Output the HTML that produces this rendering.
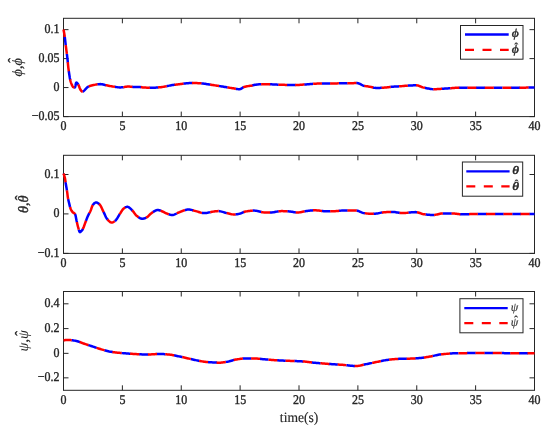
<!DOCTYPE html>
<html><head><meta charset="utf-8"><style>
html,body{margin:0;padding:0;background:#fff;width:550px;height:435px;overflow:hidden}
svg{display:block;text-rendering:geometricPrecision}
text{font-family:'Liberation Serif', 'DejaVu Serif', serif;font-size:13.3px;fill:#262626;stroke:#262626;stroke-width:0.38px}
.m{font-style:italic}
.lg{font-size:12px}
.yl{font-size:14.3px}
</style></head><body>
<svg width="550" height="435" viewBox="0 0 550 435">
<rect width="550" height="435" fill="#fff"/>
<rect x="63.5" y="18.3" width="471.0" height="98.3" fill="none" stroke="#262626" stroke-width="1"/>
<path d="M63.50,116.6v-5M63.50,18.3v5M122.38,116.6v-5M122.38,18.3v5M181.25,116.6v-5M181.25,18.3v5M240.12,116.6v-5M240.12,18.3v5M299.00,116.6v-5M299.00,18.3v5M357.88,116.6v-5M357.88,18.3v5M416.75,116.6v-5M416.75,18.3v5M475.62,116.6v-5M475.62,18.3v5M534.50,116.6v-5M534.50,18.3v5M63.5,116.60h5M534.5,116.60h-5M63.5,87.55h5M534.5,87.55h-5M63.5,58.60h5M534.5,58.60h-5M63.5,29.65h5M534.5,29.65h-5" stroke="#262626" stroke-width="1" fill="none"/>
<path d="M64.73,36.74 64.86,37.73 64.98,38.72 65.10,39.72 65.21,40.71 65.32,41.71 65.43,42.70 65.54,43.69 65.66,44.69 65.75,45.43M66.86,53.86 66.98,54.85 67.11,55.84 67.23,56.83 67.35,57.82 67.47,58.82 67.58,59.81 67.68,60.80 67.78,61.80 67.84,62.55M68.78,70.99 68.92,71.98 69.07,72.97 69.22,73.96 69.37,74.95 69.51,75.94 69.67,76.93 69.83,77.92 70.02,78.90 70.23,79.87M74.15,87.48 74.88,87.53 75.26,86.78 75.53,85.51 75.76,84.11 76.03,82.97 76.39,82.50 76.99,82.89 77.73,83.78 78.37,84.75M82.47,91.70 83.32,91.29 84.13,90.59 84.84,89.89 85.53,89.17 86.24,88.43 86.94,87.68 87.68,87.01 88.49,86.50 88.94,86.31M97.22,84.31 98.21,84.21 99.21,84.14 100.21,84.10 101.20,84.15 102.18,84.30 103.16,84.52 104.14,84.77 105.12,85.02 106.09,85.24M114.70,86.81 115.69,86.97 116.68,87.13 117.67,87.27 118.66,87.37 119.66,87.40 120.66,87.38 121.66,87.34 122.66,87.29 123.65,87.17M132.08,86.87 133.08,86.90 134.08,86.90 135.08,86.90 136.08,86.90 137.08,86.90 138.08,86.90 139.08,86.92 140.07,87.01 141.06,87.14M149.29,87.68 150.29,87.69 151.29,87.69 152.29,87.70 153.29,87.70 154.29,87.68 155.28,87.64 156.28,87.58 157.28,87.50 158.28,87.42M166.44,86.24 167.42,86.05 168.40,85.86 169.38,85.64 170.35,85.42 171.33,85.22 172.32,85.05 173.30,84.91 174.30,84.79 175.04,84.70M183.24,83.73 184.24,83.60 185.23,83.47 186.23,83.36 187.22,83.25 188.22,83.16 189.21,83.09 190.21,83.03 191.21,83.00 192.20,83.00 192.45,83.00M201.19,83.34 202.18,83.45 203.17,83.57 204.16,83.70 205.16,83.84 206.15,84.00 207.14,84.15 208.13,84.31 209.12,84.46 210.10,84.61 210.35,84.65M218.75,85.95 219.74,86.11 220.72,86.27 221.71,86.43 222.70,86.59 223.68,86.76 224.67,86.92 225.65,87.09 226.64,87.26 227.63,87.42M235.58,88.73 236.58,88.90 237.58,89.04 238.56,89.14 239.51,89.20 240.43,89.10 241.32,88.68 242.18,88.08 243.05,87.46 243.72,87.08M252.05,85.47 253.03,85.26 254.02,85.05 255.00,84.84 255.99,84.65 256.98,84.50 257.96,84.38 258.96,84.31 259.95,84.30 260.94,84.30 261.44,84.30M269.70,84.31 270.70,84.34 271.70,84.37 272.70,84.41 273.69,84.46 274.69,84.51 275.69,84.56 276.69,84.61 277.69,84.66 278.69,84.71M286.93,84.91 287.93,84.93 288.93,84.94 289.93,84.96 290.93,84.97 291.93,84.98 292.93,84.99 293.93,84.99 294.93,85.00 295.68,85.00M304.16,84.54 305.16,84.46 306.16,84.40 307.16,84.33 308.15,84.25 309.15,84.17 310.15,84.09 311.14,84.00 312.14,83.92 313.14,83.84M321.63,83.54 322.63,83.53 323.63,83.52 324.63,83.50 325.63,83.49 326.63,83.48 327.62,83.47 328.62,83.46 329.62,83.45 330.37,83.44M338.87,83.36 339.87,83.36 340.87,83.35 341.87,83.34 342.87,83.33 343.87,83.32 344.87,83.31 345.87,83.30 346.87,83.29 347.63,83.27M356.15,83.10 357.11,83.10 358.06,83.22 358.99,83.53 359.91,83.96 360.82,84.46 361.74,84.96 362.66,85.39 363.61,85.70 364.58,85.91 364.82,85.96M372.96,87.48 373.94,87.69 374.93,87.86 375.91,87.97 376.90,88.00 377.90,87.99 378.89,87.95 379.89,87.91 380.89,87.85 381.89,87.78M390.36,86.94 391.35,86.82 392.34,86.73 393.34,86.66 394.34,86.60 395.34,86.54 396.34,86.50 397.33,86.45 398.33,86.40 399.08,86.36M407.55,85.64 408.55,85.58 409.56,85.53 410.56,85.47 411.57,85.42 412.57,85.38 413.57,85.34 414.56,85.32 415.55,85.30 416.53,85.31M424.67,87.82 425.65,88.02 426.63,88.22 427.62,88.42 428.61,88.60 429.60,88.77 430.59,88.92 431.59,89.04 432.58,89.13 433.58,89.19M441.80,88.80 442.80,88.72 443.80,88.64 444.80,88.57 445.80,88.51 446.80,88.45 447.79,88.38 448.79,88.31 449.79,88.24 450.54,88.18M458.77,87.72 459.77,87.70 460.77,87.70 461.77,87.70 462.77,87.70 463.77,87.70 464.77,87.70 465.77,87.70 466.77,87.70 467.77,87.70M476.02,87.70 477.02,87.70 478.02,87.70 479.02,87.70 480.02,87.70 481.02,87.70 482.02,87.70 483.02,87.70 484.01,87.70 485.01,87.70M493.51,87.69 494.51,87.69 495.51,87.69 496.51,87.69 497.51,87.68 498.51,87.68 499.51,87.68 500.51,87.68 501.51,87.68 502.51,87.68M511.01,87.66 512.01,87.66 513.01,87.66 514.01,87.65 515.01,87.65 516.01,87.65 517.01,87.65 518.00,87.64 519.00,87.64 520.00,87.64M528.25,87.62 529.25,87.62 530.25,87.61 531.25,87.61 532.25,87.61 533.25,87.60 534.25,87.60 534.50,87.60" fill="none" stroke="#0000ff" stroke-width="2.5" stroke-linejoin="round"/>
<path d="M63.50,29.60 63.69,30.58 63.88,31.56 64.07,32.55 64.24,33.53 64.40,34.52 64.56,35.50 64.70,36.49 64.76,36.99M65.72,45.18 65.85,46.17 65.98,47.16 66.11,48.16 66.24,49.15 66.37,50.14 66.50,51.13 66.63,52.12 66.76,53.11 66.86,53.86M67.80,62.05 67.89,63.04 67.97,64.04 68.06,65.04 68.16,66.03 68.26,67.03 68.37,68.02 68.50,69.01 68.63,70.00 68.78,70.99 68.81,71.24M70.12,79.38 70.35,80.35 70.61,81.33 70.91,82.29 71.24,83.23 71.60,84.16 72.01,85.15 72.48,86.12 73.04,86.89 73.87,87.38 74.41,87.55M78.23,84.52 78.70,85.40 79.06,86.33 79.39,87.29 79.77,88.23 80.19,89.15 80.66,90.06 81.23,90.84 82.04,91.54 82.68,91.67M88.71,86.40 89.66,86.05 90.63,85.76 91.59,85.52 92.57,85.30 93.55,85.09 94.52,84.86 95.50,84.62 96.48,84.42 97.46,84.28M105.60,85.14 106.58,85.34 107.56,85.55 108.54,85.75 109.52,85.95 110.50,86.14 111.49,86.31 112.47,86.48 113.46,86.63 114.45,86.78 114.94,86.85M123.40,87.21 124.39,87.04 125.38,86.84 126.36,86.65 127.35,86.53 128.35,86.51 129.34,86.57 130.34,86.69 131.33,86.80 132.33,86.89M140.82,87.11 141.81,87.26 142.80,87.41 143.79,87.53 144.79,87.60 145.79,87.62 146.79,87.64 147.79,87.66 148.79,87.67 149.79,87.68M158.03,87.44 159.03,87.34 160.02,87.25 161.01,87.15 162.00,87.02 162.99,86.87 163.98,86.70 164.96,86.52 165.95,86.34 166.68,86.19M174.54,84.76 175.54,84.64 176.53,84.53 177.53,84.43 178.52,84.32 179.52,84.21 180.51,84.09 181.50,83.96 182.50,83.83 183.49,83.69M191.95,83.00 192.95,83.01 193.95,83.02 194.95,83.05 195.95,83.08 196.95,83.11 197.95,83.15 198.95,83.19 199.94,83.25 200.94,83.32 201.44,83.37M210.10,84.61 211.09,84.76 212.08,84.90 213.07,85.05 214.06,85.20 215.05,85.36 216.03,85.51 217.02,85.67 218.01,85.83 219.00,85.99M227.38,87.38 228.37,87.55 229.35,87.71 230.34,87.87 231.33,88.02 232.32,88.17 233.31,88.33 234.31,88.50 235.32,88.68 235.83,88.77M243.27,87.32 244.18,86.91 245.12,86.66 246.09,86.46 247.08,86.28 248.07,86.12 249.08,85.97 250.07,85.82 251.06,85.65 252.05,85.47 252.54,85.36M261.19,84.30 262.19,84.30 263.19,84.30 264.19,84.30 265.20,84.30 266.20,84.30 267.20,84.30 268.20,84.30 269.20,84.31 270.20,84.32M278.44,84.70 279.44,84.74 280.44,84.78 281.44,84.80 282.44,84.82 283.43,84.84 284.43,84.86 285.43,84.88 286.43,84.90 287.18,84.91M295.18,85.00 296.18,85.00 297.18,84.98 298.18,84.95 299.17,84.90 300.17,84.84 301.17,84.77 302.17,84.69 303.17,84.61 304.16,84.54 304.41,84.52M313.14,83.84 314.14,83.77 315.13,83.71 316.13,83.65 317.13,83.62 318.13,83.59 319.13,83.57 320.13,83.56 321.13,83.54 321.88,83.53M330.12,83.44 331.12,83.43 332.12,83.42 333.12,83.41 334.12,83.40 335.12,83.39 336.12,83.39 337.12,83.38 338.12,83.37 338.87,83.36M347.37,83.28 348.38,83.26 349.40,83.24 350.41,83.21 351.42,83.19 352.43,83.16 353.43,83.14 354.43,83.12 355.41,83.11 356.39,83.10M364.33,85.86 365.31,86.05 366.30,86.21 367.29,86.36 368.29,86.50 369.28,86.66 370.26,86.85 371.24,87.07 372.23,87.30 373.21,87.53M381.64,87.80 382.64,87.72 383.64,87.65 384.64,87.57 385.64,87.49 386.63,87.40 387.63,87.28 388.62,87.16 389.61,87.03 390.61,86.91M399.08,86.36 400.08,86.29 401.08,86.21 402.07,86.12 403.07,86.02 404.06,85.91 405.06,85.82 406.05,85.74 407.05,85.67 407.80,85.63M416.04,85.30 417.01,85.37 417.97,85.56 418.93,85.85 419.88,86.21 420.83,86.59 421.78,86.98 422.73,87.33 423.70,87.61 424.67,87.82 424.91,87.87M433.33,89.18 434.32,89.20 435.32,89.19 436.31,89.16 437.31,89.12 438.31,89.06 439.30,88.99 440.30,88.92 441.30,88.84 442.05,88.78M450.29,88.20 451.29,88.13 452.28,88.06 453.28,87.99 454.28,87.92 455.28,87.86 456.28,87.81 457.28,87.77 458.27,87.73 459.27,87.71M467.52,87.70 468.52,87.70 469.52,87.70 470.52,87.70 471.52,87.70 472.52,87.70 473.52,87.70 474.52,87.70 475.52,87.70 476.27,87.70M484.76,87.70 485.76,87.70 486.76,87.70 487.76,87.69 488.76,87.69 489.76,87.69 490.76,87.69 491.76,87.69 492.76,87.69 493.76,87.69M502.51,87.68 503.51,87.67 504.51,87.67 505.51,87.67 506.51,87.67 507.51,87.67 508.51,87.67 509.51,87.66 510.51,87.66 511.26,87.66M519.50,87.64 520.50,87.64 521.50,87.64 522.50,87.63 523.50,87.63 524.50,87.63 525.50,87.63 526.50,87.62 527.50,87.62 528.50,87.62" fill="none" stroke="#ff0000" stroke-width="2.5" stroke-linejoin="round"/>
<text transform="translate(63.50,130.15) scale(0.9,1)" text-anchor="middle">0</text>
<text transform="translate(122.38,130.15) scale(0.9,1)" text-anchor="middle">5</text>
<text transform="translate(181.25,130.15) scale(0.9,1)" text-anchor="middle">10</text>
<text transform="translate(240.12,130.15) scale(0.9,1)" text-anchor="middle">15</text>
<text transform="translate(299.00,130.15) scale(0.9,1)" text-anchor="middle">20</text>
<text transform="translate(357.88,130.15) scale(0.9,1)" text-anchor="middle">25</text>
<text transform="translate(416.75,130.15) scale(0.9,1)" text-anchor="middle">30</text>
<text transform="translate(475.62,130.15) scale(0.9,1)" text-anchor="middle">35</text>
<text transform="translate(534.50,130.15) scale(0.9,1)" text-anchor="middle">40</text>
<text transform="translate(59.50,119.80) scale(0.9,1)" text-anchor="end">−0.05</text>
<text transform="translate(59.50,90.75) scale(0.9,1)" text-anchor="end">0</text>
<text transform="translate(59.50,61.80) scale(0.9,1)" text-anchor="end">0.05</text>
<text transform="translate(59.50,32.85) scale(0.9,1)" text-anchor="end">0.1</text>
<rect x="63.5" y="155.3" width="471.0" height="98.1" fill="none" stroke="#262626" stroke-width="1"/>
<path d="M63.50,253.4v-5M63.50,155.3v5M122.38,253.4v-5M122.38,155.3v5M181.25,253.4v-5M181.25,155.3v5M240.12,253.4v-5M240.12,155.3v5M299.00,253.4v-5M299.00,155.3v5M357.88,253.4v-5M357.88,155.3v5M416.75,253.4v-5M416.75,155.3v5M475.62,253.4v-5M475.62,155.3v5M534.50,253.4v-5M534.50,155.3v5M63.5,253.40h5M534.5,253.40h-5M63.5,213.90h5M534.5,213.90h-5M63.5,174.50h5M534.5,174.50h-5" stroke="#262626" stroke-width="1" fill="none"/>
<path d="M63.50,173.50 63.59,173.73M65.52,181.99 65.66,182.98 65.83,183.96 66.00,184.95 66.17,185.93 66.35,186.92 66.52,187.90 66.68,188.89 66.84,189.88 66.95,190.62M68.14,199.03 68.35,200.00 68.58,200.98 68.82,201.95 69.06,202.92 69.30,203.90 69.52,204.88 69.76,205.86 70.00,206.84 70.14,207.32M74.89,213.77 75.24,214.55 75.52,215.44 75.76,216.41 75.95,217.44 76.13,218.50 76.32,219.55 76.52,220.57 76.75,221.54 76.92,222.28M78.77,229.58 79.10,230.78 79.48,231.73 79.92,232.19 80.52,231.96 81.30,231.21 82.06,230.28 82.62,229.44 83.07,228.59M85.92,221.04 86.27,220.10 86.62,219.16 86.98,218.23 87.35,217.30 87.73,216.38 88.14,215.47 88.59,214.58 89.06,213.70 89.42,213.03M92.61,205.40 93.15,204.61 93.85,203.75 94.67,202.98 95.52,202.49 96.36,202.44 97.30,202.78 98.24,203.35 99.07,203.99 99.41,204.30M103.49,211.78 103.94,212.69 104.36,213.63 104.77,214.57 105.18,215.51 105.61,216.43 106.06,217.31 106.56,218.15 107.11,218.91 107.75,219.70M114.76,221.13 115.50,220.53 116.15,219.85 116.74,219.08 117.29,218.24 117.81,217.35 118.33,216.44 118.85,215.54 119.38,214.67 119.81,214.04M124.94,207.66 125.89,207.16 126.86,206.85 127.73,206.84 128.58,207.16 129.42,207.71 130.23,208.42 131.02,209.21 131.78,209.99 132.50,210.69M138.21,216.98 139.09,217.60 140.01,218.13 140.94,218.55 141.87,218.77 142.80,218.77 143.77,218.57 144.75,218.24 145.72,217.83 146.40,217.50M152.76,212.25 153.64,211.64 154.54,211.07 155.45,210.58 156.37,210.22 157.29,210.02 158.22,210.03 159.17,210.21 160.13,210.51 160.85,210.79M168.52,214.16 169.50,214.49 170.47,214.75 171.44,214.93 172.39,215.00 173.33,214.90 174.26,214.62 175.18,214.22 176.11,213.75 176.80,213.38M184.60,210.20 185.56,209.91 186.52,209.69 187.49,209.55 188.45,209.50 189.42,209.55 190.40,209.69 191.37,209.90 192.35,210.15 193.33,210.43M201.58,212.85 202.56,213.03 203.53,213.10 204.51,213.08 205.50,213.01 206.49,212.89 207.48,212.75 208.47,212.58 209.46,212.39 210.46,212.19M218.63,211.11 219.61,211.20 220.59,211.37 221.56,211.60 222.53,211.87 223.50,212.16 224.48,212.46 225.45,212.74 226.42,212.99 226.91,213.10M235.27,214.46 236.27,214.35 237.27,214.20 238.26,214.02 239.24,213.83 240.19,213.59 241.13,213.23 242.05,212.81 242.97,212.37 243.90,211.98 244.13,211.89M252.52,210.63 253.52,210.60 254.51,210.62 255.49,210.71 256.48,210.86 257.46,211.06 258.44,211.29 259.42,211.54 260.41,211.78 261.39,212.01M269.85,212.60 270.85,212.57 271.84,212.49 272.83,212.36 273.82,212.20 274.81,212.02 275.80,211.83 276.79,211.64 277.78,211.46 278.77,211.31M287.25,211.31 288.25,211.37 289.24,211.43 290.24,211.54 291.23,211.69 292.22,211.85 293.21,212.03 294.21,212.19 295.20,212.34 295.94,212.42M304.33,211.42 305.32,211.24 306.31,211.10 307.30,210.98 308.30,210.85 309.29,210.73 310.29,210.61 311.28,210.51 312.28,210.42 313.28,210.35M321.74,210.97 322.74,211.09 323.73,211.19 324.73,211.26 325.73,211.30 326.72,211.30 327.72,211.30 328.72,211.29 329.72,211.28 330.47,211.27M338.96,210.84 339.95,210.73 340.95,210.63 341.95,210.55 342.94,210.51 343.94,210.50 344.94,210.50 345.95,210.50 346.96,210.51 347.72,210.51M356.44,210.60 357.40,210.70 358.35,210.96 359.29,211.33 360.22,211.76 361.16,212.20 362.10,212.61 363.05,212.94 364.01,213.13 364.99,213.28M373.24,213.75 374.24,213.70 375.24,213.63 376.23,213.55 377.22,213.47 378.21,213.31 379.19,213.10 380.17,212.86 381.15,212.64 382.13,212.47 382.38,212.43M390.86,211.91 391.86,211.90 392.85,211.91 393.85,211.97 394.84,212.09 395.83,212.23 396.83,212.40 397.82,212.57 398.81,212.74 399.80,212.89M408.28,212.68 409.28,212.57 410.28,212.46 411.28,212.35 412.28,212.26 413.27,212.18 414.26,212.13 415.25,212.10 416.23,212.14 417.20,212.28M425.46,214.44 426.45,214.56 427.45,214.66 428.45,214.76 429.45,214.85 430.45,214.92 431.45,214.97 432.44,215.00 433.44,214.99 434.43,214.92M442.57,213.42 443.56,213.40 444.56,213.40 445.56,213.40 446.56,213.40 447.56,213.40 448.56,213.40 449.56,213.40 450.56,213.40 451.56,213.40 451.81,213.40M460.03,214.20 461.02,214.27 462.02,214.30 463.02,214.30 464.02,214.28 465.01,214.26 466.01,214.23 467.01,214.20 468.01,214.17 469.01,214.13M477.51,214.00 478.51,214.00 479.51,214.00 480.51,214.00 481.51,214.00 482.51,214.00 483.51,214.00 484.51,214.00 485.51,214.00 486.51,214.00M495.01,214.00 496.01,214.00 497.01,214.00 498.01,214.00 499.01,214.00 500.00,214.00 501.00,214.00 502.00,214.00 503.00,214.00 503.75,214.00M512.25,214.00 513.25,214.00 514.25,214.00 515.25,214.00 516.25,214.00 517.25,214.00 518.25,214.00 519.25,214.00 520.25,214.00 521.00,214.00M529.25,214.00 530.25,214.00 531.25,214.00 532.25,214.00 533.25,214.00 534.25,214.00 534.50,214.00" fill="none" stroke="#0000ff" stroke-width="2.5" stroke-linejoin="round"/>
<path d="M63.50,173.50 63.86,174.44 64.19,175.39 64.48,176.35 64.74,177.31 64.96,178.28 65.13,179.26 65.28,180.25 65.42,181.24 65.55,182.23M66.91,190.37 67.06,191.36 67.21,192.35 67.35,193.34 67.47,194.33 67.58,195.33 67.70,196.32 67.84,197.31 68.00,198.29 68.19,199.27M70.07,207.08 70.36,208.03 70.70,208.95 71.12,209.87 71.62,210.77 72.19,211.60 72.83,212.32 73.73,212.89 74.60,213.45 75.07,214.15M76.87,222.03 77.09,223.01 77.31,223.99 77.54,224.96 77.78,225.93 78.04,226.90 78.32,227.85 78.61,228.96 78.77,229.58M82.85,229.03 83.27,228.15 83.65,227.22 84.00,226.27 84.34,225.30 84.67,224.33 85.02,223.37 85.38,222.44 85.74,221.51 86.00,220.80M89.30,213.25 89.78,212.37 90.24,211.48 90.66,210.58 91.04,209.64 91.37,208.66 91.68,207.68 92.01,206.71 92.40,205.82 92.73,205.20M99.07,203.99 99.72,204.62 100.29,205.36 100.81,206.18 101.28,207.07 101.73,208.01 102.17,208.97 102.60,209.94 103.04,210.88 103.49,211.78 103.61,212.01M107.58,219.50 108.29,220.33 109.07,221.15 109.89,221.86 110.74,222.37 111.59,222.60 112.46,222.46 113.40,222.04 114.33,221.45 114.76,221.13M119.67,214.25 120.23,213.40 120.78,212.51 121.32,211.61 121.87,210.73 122.45,209.89 123.07,209.13 123.74,208.48 124.50,207.93 125.17,207.53M132.14,210.35 132.84,211.06 133.48,211.84 134.09,212.66 134.68,213.51 135.29,214.32 135.93,215.09 136.62,215.75 137.38,216.35 138.21,216.98 138.43,217.14M146.18,217.61 147.04,217.17 147.82,216.61 148.56,215.93 149.27,215.18 149.98,214.43 150.72,213.73 151.50,213.13 152.34,212.55 152.98,212.10M160.61,210.69 161.57,211.10 162.52,211.51 163.45,211.91 164.34,212.37 165.22,212.84 166.14,213.23 167.08,213.60 168.04,213.98 168.77,214.25M176.80,213.38 177.72,212.90 178.66,212.49 179.60,212.15 180.54,211.77 181.49,211.39 182.45,211.00 183.40,210.62 184.36,210.28 184.84,210.12M192.84,210.29 193.82,210.58 194.80,210.87 195.77,211.14 196.74,211.39 197.71,211.67 198.68,211.98 199.65,212.30 200.62,212.60 201.58,212.85 201.83,212.91M210.21,212.24 211.21,212.04 212.20,211.84 213.20,211.64 214.19,211.47 215.18,211.32 216.17,211.21 217.16,211.13 218.14,211.10 218.63,211.11M226.67,213.05 227.65,213.27 228.63,213.51 229.61,213.76 230.59,214.00 231.57,214.21 232.55,214.38 233.54,214.48 234.52,214.50 235.52,214.44M243.67,212.07 244.60,211.74 245.56,211.53 246.54,211.36 247.52,211.19 248.52,211.04 249.52,210.91 250.52,210.79 251.52,210.70 252.52,210.63 252.77,210.62M261.14,211.95 262.13,212.16 263.12,212.31 264.11,212.40 265.10,212.45 266.10,212.50 267.10,212.54 268.10,212.58 269.10,212.59 270.10,212.60M278.52,211.34 279.52,211.22 280.51,211.13 281.50,211.10 282.50,211.11 283.50,211.13 284.50,211.17 285.50,211.21 286.50,211.26 287.50,211.32M295.69,212.40 296.68,212.48 297.67,212.50 298.66,212.45 299.65,212.34 300.63,212.18 301.62,211.99 302.60,211.78 303.59,211.57 304.58,211.37M313.03,210.36 314.03,210.32 315.02,210.30 316.02,210.32 317.01,210.39 318.01,210.48 319.00,210.60 320.00,210.73 320.99,210.87 321.99,211.00M330.22,211.27 331.22,211.26 332.22,211.25 333.22,211.23 334.22,211.21 335.22,211.18 336.22,211.12 337.21,211.04 338.21,210.93 339.21,210.82M347.46,210.51 348.47,210.51 349.48,210.52 350.49,210.53 351.49,210.54 352.50,210.55 353.49,210.56 354.48,210.57 355.47,210.58 356.44,210.60 356.68,210.61M364.75,213.24 365.73,213.38 366.73,213.51 367.73,213.62 368.73,213.70 369.74,213.77 370.74,213.80 371.73,213.80 372.73,213.77 373.74,213.72M381.88,212.50 382.87,212.39 383.86,212.30 384.86,212.22 385.86,212.15 386.86,212.09 387.86,212.03 388.86,211.98 389.86,211.94 390.86,211.91 391.11,211.91M399.55,212.86 400.55,212.99 401.54,213.07 402.53,213.10 403.53,213.08 404.53,213.03 405.53,212.96 406.53,212.87 407.53,212.77 408.53,212.66M416.96,212.23 417.93,212.45 418.89,212.73 419.86,213.05 420.82,213.39 421.79,213.71 422.76,213.99 423.73,214.21 424.71,214.35 425.70,214.47M434.18,214.94 435.17,214.81 436.15,214.64 437.14,214.42 438.12,214.19 439.11,213.96 440.10,213.75 441.08,213.58 442.07,213.45 442.82,213.41M451.56,213.40 452.56,213.41 453.56,213.46 454.55,213.55 455.55,213.66 456.54,213.79 457.54,213.92 458.53,214.05 459.53,214.16 460.28,214.22M469.01,214.13 470.01,214.10 471.01,214.07 472.01,214.04 473.01,214.02 474.01,214.00 475.01,214.00 476.01,214.00 477.01,214.00 477.76,214.00M486.01,214.00 487.01,214.00 488.01,214.00 489.01,214.00 490.01,214.00 491.01,214.00 492.01,214.00 493.01,214.00 494.01,214.00 495.01,214.00 495.26,214.00M503.50,214.00 504.50,214.00 505.50,214.00 506.50,214.00 507.50,214.00 508.50,214.00 509.50,214.00 510.50,214.00 511.50,214.00 512.25,214.00M520.50,214.00 521.50,214.00 522.50,214.00 523.50,214.00 524.50,214.00 525.50,214.00 526.50,214.00 527.50,214.00 528.50,214.00 529.50,214.00" fill="none" stroke="#ff0000" stroke-width="2.5" stroke-linejoin="round"/>
<text transform="translate(63.50,266.95) scale(0.9,1)" text-anchor="middle">0</text>
<text transform="translate(122.38,266.95) scale(0.9,1)" text-anchor="middle">5</text>
<text transform="translate(181.25,266.95) scale(0.9,1)" text-anchor="middle">10</text>
<text transform="translate(240.12,266.95) scale(0.9,1)" text-anchor="middle">15</text>
<text transform="translate(299.00,266.95) scale(0.9,1)" text-anchor="middle">20</text>
<text transform="translate(357.88,266.95) scale(0.9,1)" text-anchor="middle">25</text>
<text transform="translate(416.75,266.95) scale(0.9,1)" text-anchor="middle">30</text>
<text transform="translate(475.62,266.95) scale(0.9,1)" text-anchor="middle">35</text>
<text transform="translate(534.50,266.95) scale(0.9,1)" text-anchor="middle">40</text>
<text transform="translate(59.50,256.60) scale(0.9,1)" text-anchor="end">−0.1</text>
<text transform="translate(59.50,217.10) scale(0.9,1)" text-anchor="end">0</text>
<text transform="translate(59.50,177.70) scale(0.9,1)" text-anchor="end">0.1</text>
<rect x="63.5" y="291.5" width="471.0" height="98.80000000000001" fill="none" stroke="#262626" stroke-width="1"/>
<path d="M63.50,390.3v-5M63.50,291.5v5M122.38,390.3v-5M122.38,291.5v5M181.25,390.3v-5M181.25,291.5v5M240.12,390.3v-5M240.12,291.5v5M299.00,390.3v-5M299.00,291.5v5M357.88,390.3v-5M357.88,291.5v5M416.75,390.3v-5M416.75,291.5v5M475.62,390.3v-5M475.62,291.5v5M534.50,390.3v-5M534.50,291.5v5M63.5,377.85h5M534.5,377.85h-5M63.5,353.35h5M534.5,353.35h-5M63.5,328.60h5M534.5,328.60h-5M63.5,303.80h5M534.5,303.80h-5" stroke="#262626" stroke-width="1" fill="none"/>
<path d="M71.45,340.18 72.45,340.32 73.44,340.47 74.43,340.63 75.41,340.80 76.38,340.97 77.34,341.21 78.29,341.50 79.23,341.84 80.17,342.20M88.21,345.05 89.16,345.36 90.10,345.68 91.05,345.99 92.00,346.30 92.95,346.62 93.90,346.93 94.85,347.25 95.80,347.57 96.75,347.89M104.40,350.23 105.36,350.50 106.33,350.77 107.30,351.03 108.27,351.27 109.24,351.49 110.22,351.68 111.20,351.85 112.18,352.00 112.92,352.10M121.38,353.03 122.38,353.12 123.37,353.21 124.37,353.29 125.37,353.37 126.36,353.45 127.36,353.53 128.36,353.60 129.36,353.67 130.35,353.74 130.60,353.75M139.09,354.26 140.08,354.30 141.08,354.34 142.08,354.39 143.08,354.42 144.08,354.46 145.08,354.48 146.08,354.50 147.08,354.50 148.08,354.48 148.33,354.48M156.57,354.07 157.57,354.04 158.57,354.01 159.57,354.00 160.57,354.01 161.57,354.03 162.57,354.07 163.57,354.12 164.57,354.19 165.57,354.26M173.98,355.34 174.96,355.54 175.94,355.75 176.93,355.96 177.91,356.16 178.89,356.36 179.87,356.56 180.84,356.76 181.82,356.98 182.55,357.14M190.84,359.02 191.82,359.24 192.79,359.46 193.77,359.69 194.74,359.92 195.72,360.14 196.69,360.36 197.67,360.56 198.65,360.76 199.39,360.90M207.80,362.11 208.79,362.18 209.79,362.24 210.79,362.29 211.79,362.34 212.79,362.39 213.79,362.44 214.79,362.49 215.78,362.55 216.78,362.62 217.03,362.64M225.50,362.02 226.49,361.86 227.47,361.70 228.45,361.52 229.42,361.29 230.39,361.03 231.35,360.75 232.32,360.45 233.28,360.17 234.25,359.91M242.64,358.60 243.64,358.51 244.64,358.45 245.64,358.41 246.63,358.40 247.63,358.40 248.63,358.40 249.63,358.40 250.63,358.40 251.38,358.40M259.86,358.85 260.86,358.96 261.86,359.05 262.85,359.14 263.85,359.23 264.84,359.32 265.84,359.41 266.84,359.51 267.83,359.60 268.58,359.67M277.05,360.30 278.05,360.36 279.05,360.42 280.05,360.47 281.05,360.52 282.04,360.57 283.04,360.62 284.04,360.66 285.04,360.70 285.79,360.72M294.28,361.02 295.28,361.06 296.28,361.10 297.28,361.14 298.28,361.18 299.28,361.23 300.28,361.27 301.28,361.33 302.27,361.39 303.27,361.45M311.46,362.41 312.46,362.53 313.45,362.64 314.45,362.73 315.44,362.83 316.44,362.92 317.43,363.01 318.43,363.09 319.43,363.18 320.42,363.26 320.67,363.28M328.90,363.92 329.89,363.99 330.89,364.07 331.89,364.13 332.89,364.20 333.88,364.27 334.88,364.33 335.88,364.40 336.88,364.46 337.87,364.53M346.35,365.20 347.35,365.31 348.35,365.42 349.35,365.53 350.35,365.64 351.34,365.73 352.34,365.82 353.34,365.89 354.33,365.95 355.07,365.98M363.44,364.74 364.43,364.52 365.41,364.32 366.39,364.13 367.37,363.93 368.35,363.72 369.32,363.52 370.30,363.31 371.28,363.10 372.26,362.90 372.50,362.84M380.58,361.15 381.56,360.94 382.54,360.74 383.52,360.55 384.50,360.37 385.49,360.20 386.47,360.06 387.46,359.93 388.45,359.79 389.45,359.66M397.91,358.90 398.91,358.86 399.91,358.83 400.91,358.81 401.91,358.79 402.91,358.77 403.91,358.75 404.91,358.74 405.91,358.72 406.91,358.70M415.15,358.38 416.15,358.32 417.15,358.24 418.15,358.16 419.14,358.08 420.14,357.99 421.13,357.90 422.12,357.79 423.12,357.67 424.11,357.53M432.48,356.07 433.46,355.86 434.44,355.63 435.41,355.40 436.39,355.18 437.37,354.97 438.35,354.77 439.33,354.60 440.32,354.46 441.31,354.34M449.77,353.56 450.77,353.48 451.77,353.41 452.77,353.35 453.77,353.31 454.76,353.29 455.76,353.27 456.76,353.25 457.76,353.23 458.51,353.22M467.01,353.12 468.01,353.12 469.01,353.11 470.01,353.11 471.01,353.10 472.01,353.10 473.01,353.10 474.01,353.10 475.01,353.10 475.76,353.10M484.26,353.10 485.26,353.10 486.26,353.10 487.26,353.10 488.26,353.10 489.26,353.10 490.26,353.10 491.26,353.11 492.26,353.11 493.01,353.11M501.51,353.12 502.51,353.12 503.51,353.12 504.50,353.13 505.50,353.13 506.50,353.13 507.50,353.14 508.50,353.14 509.50,353.14 510.50,353.15M519.00,353.18 520.00,353.19 521.00,353.19 522.00,353.20 523.00,353.21 524.00,353.21 525.00,353.22 526.00,353.23 527.00,353.24 528.00,353.24" fill="none" stroke="#0000ff" stroke-width="2.5" stroke-linejoin="round"/>
<path d="M63.50,340.50 64.49,340.27 65.47,340.07 66.46,339.94 67.45,339.90 68.44,339.92 69.44,339.98 70.44,340.07 71.45,340.18 71.70,340.22M79.70,342.02 80.64,342.39 81.58,342.76 82.52,343.12 83.47,343.46 84.41,343.78 85.36,344.09 86.31,344.41 87.26,344.73 88.21,345.05 88.44,345.12M96.51,347.81 97.46,348.13 98.41,348.44 99.36,348.74 100.31,349.04 101.27,349.33 102.23,349.61 103.19,349.88 104.15,350.16 104.64,350.30M112.43,352.03 113.42,352.17 114.41,352.30 115.40,352.42 116.40,352.53 117.40,352.64 118.39,352.74 119.39,352.84 120.39,352.93 121.38,353.03 121.63,353.05M130.10,353.72 131.10,353.79 132.10,353.86 133.10,353.92 134.09,353.99 135.09,354.05 136.09,354.11 137.09,354.16 138.09,354.22 139.09,354.26 139.34,354.27M147.83,354.49 148.83,354.46 149.83,354.42 150.83,354.38 151.83,354.32 152.83,354.27 153.83,354.21 154.82,354.16 155.82,354.11 156.82,354.06 157.07,354.05M165.32,354.24 166.32,354.32 167.31,354.40 168.30,354.48 169.30,354.58 170.28,354.70 171.27,354.85 172.26,355.01 173.24,355.20 174.23,355.39M182.31,357.08 183.28,357.30 184.26,357.52 185.23,357.75 186.21,357.97 187.18,358.20 188.16,358.42 189.13,358.64 190.11,358.86 190.84,359.02M199.14,360.86 200.12,361.04 201.11,361.20 202.10,361.37 203.08,361.52 204.07,361.68 205.07,361.82 206.06,361.94 207.05,362.04 208.05,362.13M216.53,362.60 217.53,362.67 218.53,362.70 219.53,362.69 220.52,362.64 221.52,362.55 222.52,362.45 223.52,362.32 224.51,362.17 225.50,362.02 225.75,361.98M233.76,360.04 234.73,359.79 235.71,359.58 236.69,359.42 237.67,359.27 238.66,359.12 239.65,358.98 240.65,358.84 241.64,358.71 242.64,358.60 242.89,358.58M251.13,358.40 252.13,358.40 253.13,358.40 254.13,358.40 255.13,358.44 256.13,358.50 257.12,358.58 258.12,358.67 259.12,358.77 260.11,358.88M268.58,359.67 269.57,359.76 270.57,359.85 271.57,359.93 272.56,360.00 273.56,360.07 274.56,360.14 275.55,360.21 276.55,360.27 277.30,360.32M285.54,360.71 286.54,360.75 287.54,360.78 288.54,360.82 289.54,360.85 290.54,360.88 291.54,360.92 292.54,360.95 293.53,360.99 294.53,361.03M302.77,361.42 303.77,361.50 304.76,361.59 305.76,361.69 306.75,361.81 307.74,361.93 308.73,362.06 309.73,362.19 310.72,362.31 311.71,362.44 311.96,362.47M320.42,363.26 321.42,363.34 322.42,363.42 323.41,363.50 324.41,363.58 325.41,363.66 326.40,363.73 327.40,363.81 328.40,363.88 329.39,363.96M337.62,364.51 338.62,364.58 339.62,364.64 340.62,364.71 341.61,364.78 342.61,364.86 343.61,364.93 344.61,365.02 345.60,365.12 346.35,365.20M354.58,365.96 355.57,365.99 356.56,366.00 357.55,365.94 358.53,365.82 359.52,365.65 360.50,365.45 361.48,365.22 362.46,364.98 363.44,364.74 363.69,364.68M372.26,362.90 373.24,362.69 374.21,362.48 375.19,362.27 376.17,362.07 377.15,361.87 378.13,361.67 379.11,361.46 380.09,361.25 380.82,361.10M389.20,359.70 390.19,359.57 391.19,359.45 392.18,359.34 393.18,359.23 394.17,359.14 395.17,359.05 396.17,358.98 397.17,358.93 398.16,358.89M406.66,358.71 407.66,358.69 408.66,358.67 409.66,358.64 410.66,358.61 411.66,358.57 412.66,358.53 413.66,358.47 414.65,358.42 415.40,358.37M423.86,357.57 424.85,357.42 425.84,357.27 426.82,357.10 427.81,356.93 428.80,356.75 429.78,356.57 430.77,356.40 431.75,356.22 432.73,356.02M441.06,354.37 442.05,354.25 443.05,354.15 444.04,354.05 445.04,353.97 446.04,353.88 447.03,353.80 448.03,353.71 449.03,353.62 450.02,353.54M458.51,353.22 459.51,353.20 460.51,353.19 461.51,353.18 462.51,353.16 463.51,353.15 464.51,353.14 465.51,353.13 466.51,353.13 467.26,353.12M475.51,353.10 476.51,353.10 477.51,353.10 478.51,353.10 479.51,353.10 480.51,353.10 481.51,353.10 482.51,353.10 483.51,353.10 484.51,353.10M492.76,353.11 493.76,353.11 494.76,353.11 495.76,353.11 496.76,353.11 497.76,353.11 498.76,353.11 499.76,353.12 500.76,353.12 501.76,353.12M510.25,353.14 511.25,353.15 512.25,353.15 513.25,353.16 514.25,353.16 515.25,353.16 516.25,353.17 517.25,353.17 518.25,353.18 519.25,353.18M527.50,353.24 528.50,353.25 529.50,353.25 530.50,353.26 531.50,353.27 532.50,353.28 533.50,353.29 534.50,353.30" fill="none" stroke="#ff0000" stroke-width="2.5" stroke-linejoin="round"/>
<text transform="translate(63.50,403.85) scale(0.9,1)" text-anchor="middle">0</text>
<text transform="translate(122.38,403.85) scale(0.9,1)" text-anchor="middle">5</text>
<text transform="translate(181.25,403.85) scale(0.9,1)" text-anchor="middle">10</text>
<text transform="translate(240.12,403.85) scale(0.9,1)" text-anchor="middle">15</text>
<text transform="translate(299.00,403.85) scale(0.9,1)" text-anchor="middle">20</text>
<text transform="translate(357.88,403.85) scale(0.9,1)" text-anchor="middle">25</text>
<text transform="translate(416.75,403.85) scale(0.9,1)" text-anchor="middle">30</text>
<text transform="translate(475.62,403.85) scale(0.9,1)" text-anchor="middle">35</text>
<text transform="translate(534.50,403.85) scale(0.9,1)" text-anchor="middle">40</text>
<text transform="translate(59.50,381.05) scale(0.9,1)" text-anchor="end">−0.2</text>
<text transform="translate(59.50,356.55) scale(0.9,1)" text-anchor="end">0</text>
<text transform="translate(59.50,331.80) scale(0.9,1)" text-anchor="end">0.2</text>
<text transform="translate(59.50,307.00) scale(0.9,1)" text-anchor="end">0.4</text>
<rect x="460.5" y="25.5" width="62.50" height="33.70" fill="#fff" stroke="#262626" stroke-width="1"/>
<path d="M465,34.5H508.7" stroke="#0000ff" stroke-width="2.3"/>
<path d="M465,49.8H508.7" stroke="#ff0000" stroke-width="2.3" stroke-dasharray="9 8.5"/>
<text class="m lg" transform="translate(511.8,37.40) scale(1.12,1)" style="font-size:12px;font-weight:normal;stroke-width:0.35px">ϕ</text>
<text class="m lg" transform="translate(511.8,52.70) scale(1.12,1)" style="font-size:12px;font-weight:normal;stroke-width:0.35px">ϕ</text>
<text class="lg" x="514.30" y="50.50" style="stroke-width:0.1px">ˆ</text>
<rect x="462.4" y="162" width="60.30" height="34.20" fill="#fff" stroke="#262626" stroke-width="1"/>
<path d="M466.3,171.3H509.6" stroke="#0000ff" stroke-width="2.3"/>
<path d="M466.3,186.3H509.6" stroke="#ff0000" stroke-width="2.3" stroke-dasharray="9 8.5"/>
<text class="m lg" transform="translate(512.3,173.90) scale(1.2,1)" style="font-size:11.5px;font-weight:normal;stroke-width:0.5px">θ</text>
<text class="m lg" transform="translate(512.3,189.90) scale(1.2,1)" style="font-size:11.5px;font-weight:normal;stroke-width:0.5px">θ</text>
<text class="lg" x="514.40" y="188.20" style="stroke-width:0.1px">ˆ</text>
<rect x="459.9" y="298.7" width="63.10" height="34.10" fill="#fff" stroke="#262626" stroke-width="1"/>
<path d="M464.3,308.2H507.7" stroke="#0000ff" stroke-width="2.3"/>
<path d="M464.3,323.2H507.7" stroke="#ff0000" stroke-width="2.3" stroke-dasharray="9 8.5"/>
<text class="m lg" transform="translate(510.8,311.10) scale(1,1)" style="font-size:12px;font-weight:normal;stroke-width:0.1px">ψ</text>
<text class="m lg" transform="translate(510.8,326.10) scale(1,1)" style="font-size:12px;font-weight:normal;stroke-width:0.1px">ψ</text>
<text class="lg" x="514.00" y="323.90" style="stroke-width:0.1px">ˆ</text>
<g transform="translate(21.8,67.2) rotate(-90)"><text class="yl m" x="-9.19" y="0" style="font-weight:normal;stroke-width:0.15px">ϕ</text><text class="yl" x="-1.79" y="0">,</text><text class="yl m" x="1.79" y="0" style="font-weight:normal;stroke-width:0.15px">ϕ</text><text class="yl" x="6.79" y="-3.50" text-anchor="middle">ˆ</text></g>
<g transform="translate(28.2,204.2) rotate(-90)"><text class="yl m" x="-8.81" y="0" style="font-weight:normal;stroke-width:0.35px">θ</text><text class="yl" x="-1.79" y="0">,</text><text class="yl m" x="1.79" y="0" style="font-weight:normal;stroke-width:0.35px">θ</text><text class="yl" x="6.30" y="-2.80" text-anchor="middle">ˆ</text></g>
<g transform="translate(28.0,340.8) rotate(-90)"><text class="yl m" x="-10.67" y="0" style="font-weight:normal;stroke-width:0px">ψ</text><text class="yl" x="-1.79" y="0">,</text><text class="yl m" x="1.79" y="0" style="font-weight:normal;stroke-width:0px">ψ</text><text class="yl" x="7.53" y="-3.50" text-anchor="middle">ˆ</text></g>
<text transform="translate(299.1,422) scale(0.95,1)" text-anchor="middle" style="font-size:14.3px;stroke-width:0.15px">time(s)</text>
</svg>
</body></html>
